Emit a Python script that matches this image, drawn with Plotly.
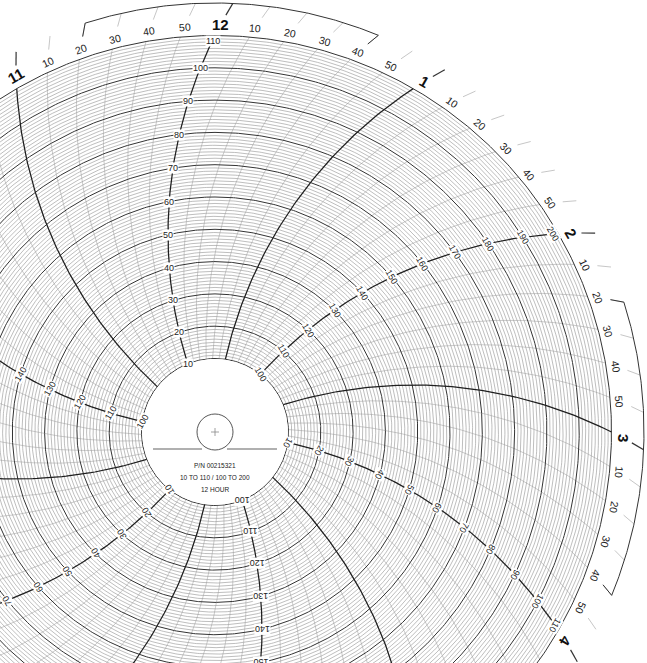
import numpy as np
import plotly.graph_objects as go

# chart paper values
hours = [12, 1, 2, 3, 4, 5, 6, 7, 8, 9, 10, 11]
minute_labels = [10, 20, 30, 40, 50]
scale_a = [10, 20, 30, 40, 50, 60, 70, 80, 90, 100, 110]
scale_b = [100, 110, 120, 130, 140, 150, 160, 170, 180, 190, 200]
scale_a_hours = [12, 4, 8]
scale_b_hours = [2, 6, 10]
bracket_spans = [(11, 20, 12, 40), (2, 20, 3, 40), (5, 20, 6, 40), (8, 20, 9, 40)]
center_text = ["P/N 00215321", "10 TO 110 / 100 TO 200", "12 HOUR"]

#----------------# geometry of the paper (pixels, centre at 0,0)
R0 = 73.5      # radius of value 10
R1 = 396.5     # radius of value 110
L = 442.0      # pen arc radius
FONT = "Liberation Sans"


def rad(v):
    return R0 + (v - 10) * (R1 - R0) / 100.0


def phi(tau, r):
    return tau + np.degrees(np.arccos(R1 / (2 * L)) - np.arccos(np.asarray(r) / (2 * L)))


def xy(ang, r):
    a = np.radians(ang)
    return r * np.sin(a), r * np.cos(a)


def tau_of(h, m=0):
    return ((h % 12) * 60 + m) * 0.5


def norm(a):
    a = a % 360
    return a - 360 if a > 180 else a


def add_paths(fig, paths, color, width):
    xs, ys = [], []
    for px, py in paths:
        xs += list(px) + [None]
        ys += list(py) + [None]
    fig.add_trace(go.Scatter(x=xs, y=ys, mode="lines", hoverinfo="skip",
                             line=dict(color=color, width=width), showlegend=False))


fig = go.Figure()

#----------------# concentric value circles
th = np.linspace(0, 360, 721)
minor = [xy(th, rad(v)) for v in range(10, 111) if v % 10 != 0]
major = [xy(th, rad(v)) for v in range(10, 111) if v % 10 == 0]

#----------------# time arcs every 10 minutes
rr = np.linspace(R0, R1, 80)
tmin, thour = [], []
for k in range(72):
    tau = k * 5.0
    p = xy(phi(tau, rr), rr)
    (thour if k % 6 == 0 else tmin).append(p)

#----------------# outer ticks and brackets
rt = np.linspace(417, 429, 5)
tick_min, tick_hour = [], []
for k in range(72):
    p = xy(phi(k * 5.0, rt), rt)
    (tick_hour if k % 6 == 0 else tick_min).append(p)

brackets = []
for h1, m1, h2, m2 in bracket_spans:
    t1 = tau_of(h1, m1)
    t2 = tau_of(h2, m2)
    if t2 < t1:
        t2 += 360
    a = np.linspace(phi(t1, 429), phi(t2, 429), 120)
    brackets.append(xy(a, 429.0))
    for t in (t1, t2):
        brackets.append(xy(phi(t, rt), rt))

add_paths(fig, tmin, "#b4b4b4", 0.7)
add_paths(fig, minor, "#9a9a9a", 0.65)
add_paths(fig, major, "#333333", 1.0)
add_paths(fig, thour, "#1e1e1e", 1.25)
add_paths(fig, tick_min, "#c0c0c0", 0.9)
add_paths(fig, tick_hour, "#333333", 1.2)
add_paths(fig, brackets, "#333333", 1.0)

#----------------# centre: white hub, hub circle, cross and bars
fig.add_shape(type="circle", x0=-R0 + 0.6, y0=-R0 + 0.6, x1=R0 - 0.6, y1=R0 - 0.6,
              fillcolor="white", line=dict(width=0), layer="above")
fig.add_shape(type="circle", x0=-18, y0=-18, x1=18, y1=18,
              line=dict(color="#444444", width=0.9), layer="above")
for x0, x1 in [(-62, -13), (12, 62)]:
    fig.add_shape(type="line", x0=x0, x1=x1, y0=-17, y1=-17,
                  line=dict(color="#b0b0b0", width=2.2), layer="above")
fig.add_shape(type="line", x0=-4, x1=4, y0=0, y1=0, line=dict(color="#888888", width=0.8), layer="above")
fig.add_shape(type="line", x0=0, x1=0, y0=-4, y1=4, line=dict(color="#888888", width=0.8), layer="above")

annotations = []
for i, txt in enumerate(center_text):
    annotations.append(dict(x=0, y=-33 - 12 * i, text=txt, showarrow=False,
                            font=dict(family=FONT, size=6.5, color="#222222")))

#----------------# hour and minute labels on the rim
for h in hours:
    t = tau_of(h)
    x, y = xy(phi(t, 408), 408)
    annotations.append(dict(x=x, y=y, text="<b>%d</b>" % h, showarrow=False, textangle=norm(t),
                            font=dict(family=FONT, size=15, color="#111111")))
    for m in minute_labels:
        tm = tau_of(h, m)
        x, y = xy(phi(tm, 406), 406)
        annotations.append(dict(x=x, y=y, text=str(m), showarrow=False, textangle=norm(tm),
                                font=dict(family=FONT, size=10.5, color="#222222")))

#----------------# value labels along hour lines
for h in scale_a_hours + scale_b_hours:
    t = tau_of(h)
    vals = scale_a if h in scale_a_hours else scale_b
    for v in vals:
        r = rad(v if h in scale_a_hours else v - 90)
        if r >= R1:
            r -= 5   # outermost label sits just inside the rim
        x, y = xy(phi(t, r), r)
        annotations.append(dict(x=x, y=y, text=str(v), showarrow=False, textangle=norm(t),
                                bgcolor="white", borderpad=0,
                                font=dict(family=FONT, size=9, color="#222222")))

fig.update_layout(
    width=647, height=663,
    margin=dict(l=0, r=0, t=0, b=0),
    paper_bgcolor="white", plot_bgcolor="white",
    xaxis=dict(range=[-215, 432], visible=False, fixedrange=True),
    yaxis=dict(range=[-231, 432], visible=False, fixedrange=True),
    annotations=annotations,
)

fig.write_html("out.html", config={"displayModeBar": False},
               post_script="document.body.style.margin='0';")
